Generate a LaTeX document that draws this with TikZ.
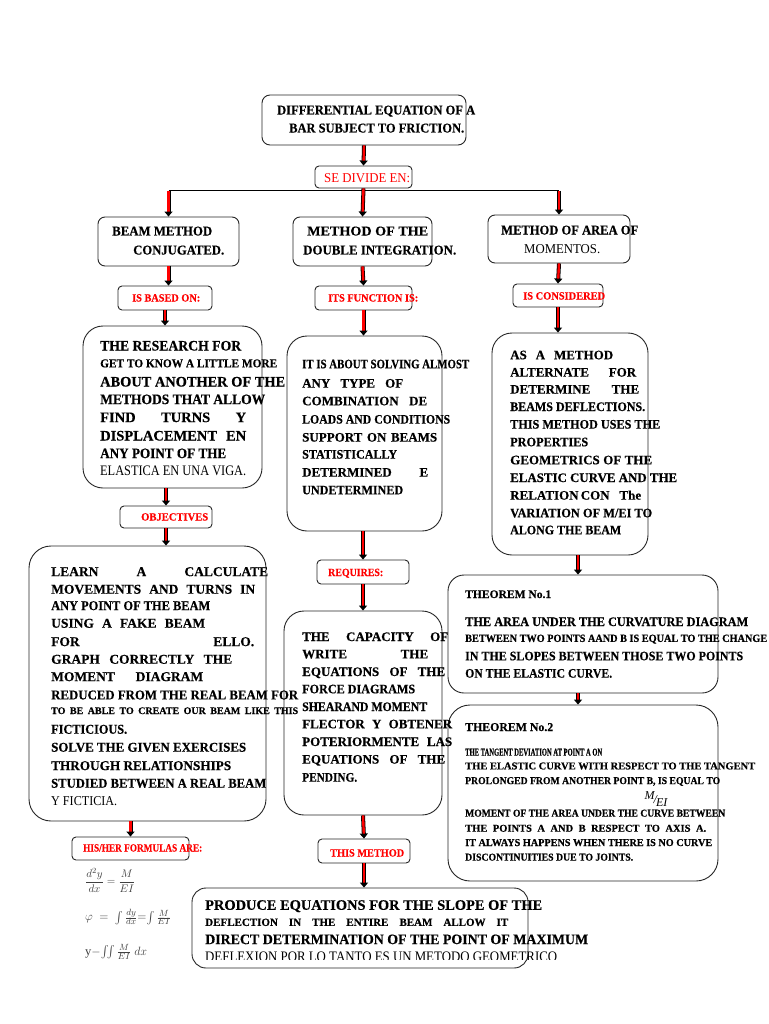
\documentclass[tikz,border=0pt]{standalone}
\usepackage{amsmath}
\usepackage{fontspec}
\setmainfont[BoldFeatures={FakeBold=0.4}]{Liberation Serif}
\usepackage{graphicx}
\usetikzlibrary{arrows.meta}
\definecolor{formula}{HTML}{404040}
\newcommand\squeeze[2]{\resizebox{#1pt}{\height}{#2}}
\newcommand\fitto[2]{\setbox0\hbox{#2}\ifdim\wd0>#1pt\relax\squeeze{#1}{#2}\else\makebox[#1pt][s]{#2}\fi}
\tikzset{
	box/.style={draw=black!85, line width=0.9pt, rounded corners=#1, inner sep=0pt},
	box/.default=5pt,
	link/.style={draw=red, line width=2.4pt, -{Triangle[black, width=8pt, length=5pt]},
		preaction={draw=black, line width=4pt, -, shorten >=3pt}},
	bus/.style={draw=black, line width=1pt},
	txt/.style={anchor=base west, inner sep=0pt, font=\fontsize{#1}{#1}\selectfont\bfseries},
	plain/.style={anchor=base west, inner sep=0pt, font=\fontsize{#1}{#1}\selectfont},
	tag/.style={txt=11, text=red},
}
\begin{document}
\begin{tikzpicture}[x=1pt,y=-1pt]
	\path[fill=white] (0,0) rectangle (768,1024);
	\useasboundingbox (0,0) rectangle (768,1024);
	% boxes
	\node[box=8pt, minimum width=204pt, minimum height=50pt] (title) at (364,120) {};
	\node[box=4pt, minimum width=97pt, minimum height=22pt] (divide) at (363.5,177) {};
	\node[box=7pt, minimum width=141pt, minimum height=49pt] (mA) at (168.5,241.5) {};
	\node[box=7pt, minimum width=139pt, minimum height=49pt] (mB) at (362.5,241.5) {};
	\node[box=7pt, minimum width=142pt, minimum height=48pt] (mC) at (559,239) {};
	\node[box=4pt, minimum width=94pt, minimum height=24pt] (lA) at (165,298) {};
	\node[box=4pt, minimum width=97pt, minimum height=24pt] (lB) at (363.5,298) {};
	\node[box=4pt, minimum width=90pt, minimum height=23pt] (lC) at (558,295.5) {};
	\node[box=20pt, minimum width=179pt, minimum height=162pt] (bA) at (172.5,407) {};
	\node[box=20pt, minimum width=155pt, minimum height=195pt] (bB) at (364.5,433.5) {};
	\node[box=20pt, minimum width=156pt, minimum height=222pt] (bC) at (570,444) {};
	\node[box=4pt, minimum width=92pt, minimum height=22pt] (lObj) at (166,517) {};
	\node[box=22pt, minimum width=237pt, minimum height=275pt] (bLearn) at (147.5,683.5) {};
	\node[box=4pt, minimum width=92pt, minimum height=24pt] (lReq) at (363,572) {};
	\node[box=20pt, minimum width=158pt, minimum height=204pt] (bCap) at (363,713) {};
	\node[box=4pt, minimum width=117pt, minimum height=23pt] (lHis) at (130.5,848.5) {};
	\node[box=4pt, minimum width=92pt, minimum height=24pt] (lThis) at (364,851) {};
	\node[box=14pt, minimum width=336pt, minimum height=80pt] (bProd) at (360,928) {};
	\node[box=16pt, minimum width=270pt, minimum height=118pt] (bT1) at (583,634) {};
	\node[box=22pt, minimum width=270pt, minimum height=176pt] (bT2) at (583,793) {};
	% connectors
	\coordinate (bus) at (363,191);
	\draw[bus] (mA.north |- bus) -- (mC.north |- bus);
	\draw[link] (title.south) -- (divide.north);
	\draw[link] (divide.south) -- (mB.north);
	\draw[link] (mA.north |- bus) -- (mA.north);
	\draw[link] (mC.north |- bus) -- (mC.north);
	\draw[link] (mA.south) -- (mA.south |- lA.north);
	\draw[link] (mB.south) -- (lB.north);
	\draw[link] (mC.south) -- (lC.north);
	\draw[link] (lA.south) -- (lA.south |- bA.north);
	\draw[link] (lB.south) -- (lB.south |- bB.north);
	\draw[link] (lC.south) -- (lC.south |- bC.north);
	\draw[link] (bA.south -| lObj.north) -- (lObj.north);
	\draw[link] (lObj.south) -- (lObj.south |- bLearn.north);
	\draw[link] (bB.south -| lReq.north) -- (lReq.north);
	\draw[link] (lReq.south) -- (bCap.north);
	\draw[link] (bCap.south) -- (lThis.north);
	\draw[link] (lThis.south) -- (lThis.south |- bProd.north);
	\draw[link] (bLearn.south -| lHis.north) -- (lHis.north);
	\draw[link] ([xshift=8pt]bC.south) -- ([xshift=8pt]bC.south |- bT1.north);
	\draw[link] ([xshift=-5pt]bT1.south) -- ([xshift=-5pt]bT2.north);
	% heading and methods
	\node[txt=13.5] (title1) at (277,114.5) {\squeeze{198}{DIFFERENTIAL EQUATION OF A}};
	\node[txt=13.5] (title2) at (289,132.5) {\squeeze{175}{BAR SUBJECT TO FRICTION.}};
	\node[plain=13.5, text=red] (divideT) at (324,182.5) {\squeeze{86}{SE DIVIDE EN:}};
	\node[txt=13.5] (mA1) at (112,235.5) {\squeeze{100}{BEAM METHOD}};
	\node[txt=13.5] (mA2) at (133,254.5) {\squeeze{91}{CONJUGATED.}};
	\node[txt=13.5] (mB1) at (307,235.5) {\squeeze{121}{METHOD OF THE}};
	\node[txt=13.5] (mB2) at (303,254.5) {\squeeze{153}{DOUBLE INTEGRATION.}};
	\node[txt=13.5] (mC1) at (501,234.5) {\squeeze{137}{METHOD OF AREA OF}};
	\node[plain=13.5] (mC2) at (524,253.5) {\squeeze{76}{MOMENTOS.}};
	% red tags
	\node[tag] (lAT) at (132,301.5) {\squeeze{68}{IS BASED ON:}};
	\node[tag] (lBT) at (328,301.5) {\squeeze{90}{ITS FUNCTION IS:}};
	\node[tag] (lCT) at (523,299.5) {\squeeze{82}{IS CONSIDERED}};
	\node[tag] (lObjT) at (141,520.5) {\squeeze{67}{OBJECTIVES}};
	\node[tag] (lReqT) at (328,576) {\squeeze{55}{REQUIRES:}};
	\node[tag] (lHisT) at (83,851.5) {\squeeze{119}{HIS/HER FORMULAS ARE:}};
	\node[tag] (lThisT) at (330,856.5) {\squeeze{74}{THIS METHOD}};
	% box texts
	\foreach \y/\w/\t in {350.5/141/{THE RESEARCH FOR},
		367.3/177/{\fontsize{12}{13}\selectfont GET TO KNOW A LITTLE MORE},
		386.5/185/{ABOUT ANOTHER OF THE}, 404.1/165/{METHODS THAT ALLOW},
		422.1/146/{FIND TURNS Y}, 440.5/146/{DISPLACEMENT EN},
		458.1/126/{ANY POINT OF THE}, 475.5/146/{\mdseries ELASTICA EN UNA VIGA.}}{
		\node[txt=14.5] (bA-\y) at (100,\y) {\fitto{\w}{\t}};
	}
	\foreach \y/\w/\t in {368.3/167/{IT IS ABOUT SOLVING ALMOST}, 387.6/101/{ANY TYPE OF},
		405.3/125/{COMBINATION DE}, 423.6/148/{LOADS AND CONDITIONS},
		441.6/135/{SUPPORT ON BEAMS}, 458.6/95/{STATISTICALLY},
		476.6/126/{DETERMINED E}, 494.3/101/{UNDETERMINED}}{
		\node[txt=13] (bB-\y) at (302,\y) {\fitto{\w}{\t}};
	}
	\foreach \y/\w/\t in {359.3/103/{AS A METHOD}, 376.6/126/{ALTERNATE FOR},
		393.6/129/{DETERMINE THE}, 411/135/{BEAMS DEFLECTIONS.},
		428.6/150/{THIS METHOD USES THE}, 446.3/78/{PROPERTIES},
		464.3/142/{GEOMETRICS OF THE}, 482/167/{ELASTIC CURVE AND THE},
		499.6/131/{RELATION\,CON\hfill The}, 517.3/142/{VARIATION OF M/EI TO},
		534.3/111/{ALONG THE BEAM}}{
		\node[txt=13] (bC-\y) at (510,\y) {\fitto{\w}{\t}};
	}
	\foreach \y/\w/\t in {576.1/217/{LEARN A CALCULATE}, 593.7/204/{MOVEMENTS AND TURNS IN},
		610.1/159/{ANY POINT OF THE BEAM}, 627.7/154/{USING A FAKE BEAM},
		646.1/203/{FOR ELLO.}, 663.7/181/{GRAPH CORRECTLY THE},
		681.1/152/{MOMENT DIAGRAM}, 699.4/247/{REDUCED FROM THE REAL BEAM FOR},
		714/247/{\fontsize{10}{11}\selectfont TO BE ABLE TO CREATE OUR BEAM LIKE THIS},
		733.7/76/{FICTICIOUS.}, 751.7/195/{SOLVE THE GIVEN EXERCISES},
		770.1/180/{THROUGH RELATIONSHIPS}, 787.7/215/{STUDIED BETWEEN A REAL BEAM},
		805.1/66/{\mdseries Y FICTICIA.}}{
		\node[txt=13.5] (bLearn-\y) at (51,\y) {\fitto{\w}{\t}};
	}
	\foreach \y/\w/\t in {641/146/{THE CAPACITY OF}, 658.3/126/{WRITE THE},
		676/143/{EQUATIONS OF THE}, 693.3/113/{FORCE DIAGRAMS},
		711/125/{SHEARAND MOMENT}, 728.3/150/{FLECTOR Y OBTENER},
		746/150/{POTERIORMENTE LAS}, 763.6/143/{EQUATIONS OF THE},
		781.6/55/{PENDING.}}{
		\node[txt=13] (bCap-\y) at (302,\y) {\fitto{\w}{\t}};
	}
	\foreach \y/\w/\t in {909.8/337/{PRODUCE EQUATIONS FOR THE SLOPE OF THE},
		925.9/303/{\fontsize{11}{12}\selectfont DEFLECTION IN THE ENTIRE BEAM ALLOW IT},
		944.1/383/{DIRECT DETERMINATION OF THE POINT OF MAXIMUM}}{
		\node[txt=14.5] (bProd-\y) at (205,\y) {\fitto{\w}{\t}};
	}
	\begin{scope}
		\clip (190,945) rectangle (600,959);
		\node[plain=14.5] (bProd-last) at (205,961.5) {\squeeze{352}{DEFLEXION POR LO TANTO ES UN METODO GEOMETRICO}};
	\end{scope}
	\node[txt=11.5] (bT1-head) at (465,598) {\squeeze{86}{THEOREM No.1}};
	\foreach \y/\w/\t in {626/283/{THE AREA UNDER THE CURVATURE DIAGRAM},
		641.9/302/{\fontsize{11}{12}\selectfont BETWEEN TWO POINTS AAND B IS EQUAL TO THE CHANGE},
		660.3/278/{IN THE SLOPES BETWEEN THOSE TWO POINTS},
		677.6/147/{ON THE ELASTIC CURVE.}}{
		\node[txt=13] (bT1-\y) at (465,\y) {\fitto{\w}{\t}};
	}
	\node[txt=12] (bT2-head) at (465,731) {\squeeze{88}{THEOREM No.2}};
	\node[txt=10.5] (bT2-first) at (465,755.6) {\squeeze{137}{THE TANGENT DEVIATION AT POINT A ON}};
	\foreach \y/\w/\t in {769.4/290/{THE ELASTIC CURVE WITH RESPECT TO THE TANGENT},
		784.1/255/{PROLONGED FROM ANOTHER POINT B, IS EQUAL TO},
		816.6/260/{MOMENT OF THE AREA UNDER THE CURVE BETWEEN},
		831.7/241/{THE POINTS A AND B RESPECT TO AXIS A.},
		846/247/{IT ALWAYS HAPPENS WHEN THERE IS NO CURVE},
		860.6/168/{DISCONTINUITIES DUE TO JOINTS.}}{
		\node[txt=10.5] (bT2-\y) at (465,\y) {\fitto{\w}{\t}};
	}
	\node[inner sep=0pt, font=\fontsize{12}{13}\selectfont\itshape] (mei) at (656,799)
		{\raisebox{4pt}{M}\kern-1pt/\kern-1pt\raisebox{-3pt}{EI}};
	% formulas
	\node[anchor=west, inner sep=0pt, text=formula, font=\fontsize{11}{12}\selectfont] (f1) at (85,880)
		{$\displaystyle\frac{d^2y}{dx}=\frac{M}{EI}$};
	\node[anchor=west, inner sep=0pt, text=formula, font=\fontsize{12.5}{14}\selectfont] (f2) at (85,917)
		{$\varphi\ =\ \int\frac{dy}{dx}{=}\!\int\frac{M}{EI}$};
	\node[anchor=west, inner sep=0pt, text=formula, font=\fontsize{12.5}{14}\selectfont] (f3) at (85,952)
		{$\mathrm{y}{-}\!\iint\frac{M}{EI}\ dx$};
\end{tikzpicture}
\end{document}
